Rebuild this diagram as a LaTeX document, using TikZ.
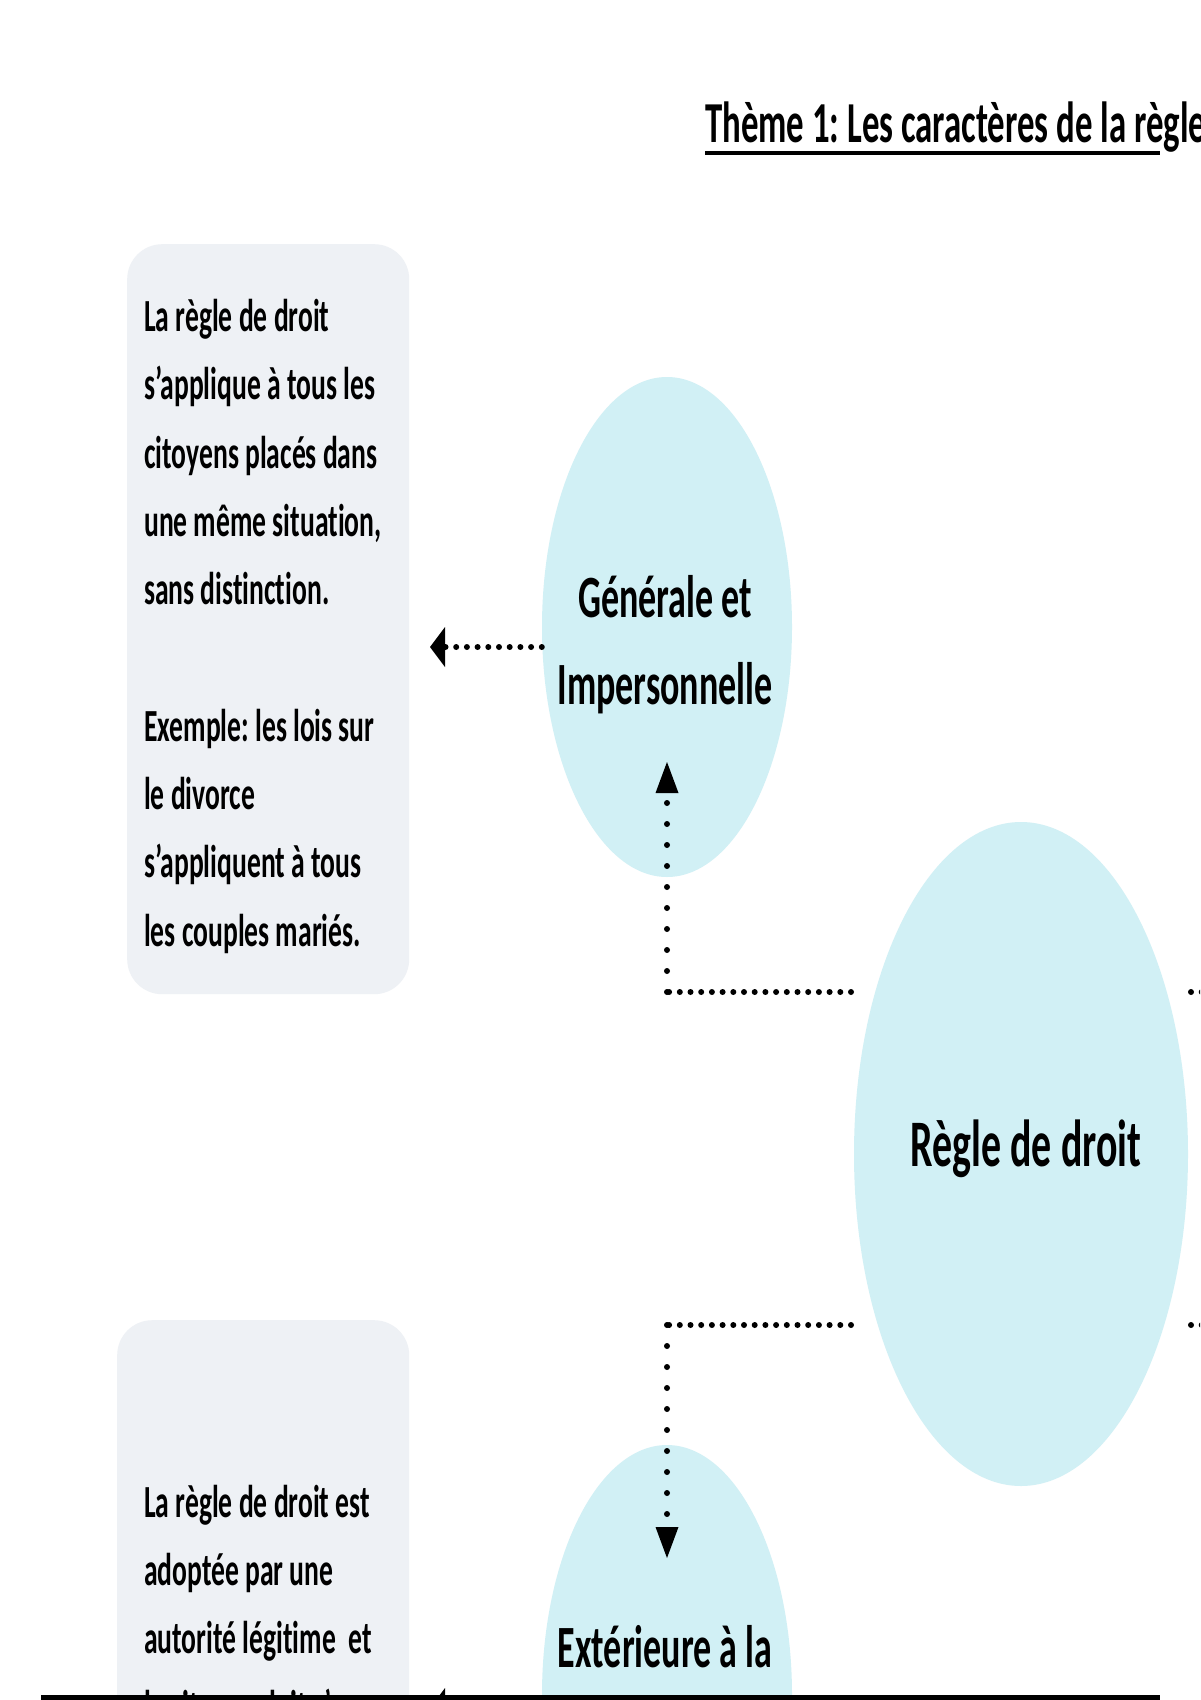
\documentclass[tikz,border=0pt]{standalone}
\usepackage{fontspec}
\setmainfont{Carlito}
\newfontfamily\cf[FakeStretch=0.6,Ligatures=NoCommon]{Carlito}
\usetikzlibrary{arrows.meta,shapes.geometric}
\definecolor{circfill}{RGB}{209,240,245}
\definecolor{boxfill}{RGB}{238,241,245}
\frenchspacing
\tikzset{
  circ/.style={ellipse, fill=circfill, inner sep=0pt, minimum width=250pt, minimum height=500pt},
  bigcirc/.style={ellipse, fill=circfill, inner sep=0pt, minimum width=334pt, minimum height=664pt},
  boxbg/.style={rectangle, fill=boxfill, rounded corners=35pt, inner sep=0pt},
  boxtext/.style={font=\cf\bfseries\frenchspacing\fontsize{46}{68.3}\selectfont, align=left, inner sep=0pt},
  ctext/.style={font=\cf\bfseries\frenchspacing\fontsize{60}{87}\selectfont, align=center, inner sep=0pt},
  ctextbig/.style={font=\cf\bfseries\frenchspacing\fontsize{66.5}{87}\selectfont, align=center, inner sep=0pt},
  titletext/.style={font=\cf\bfseries\frenchspacing\fontsize{58}{70}\selectfont, inner sep=0pt},
  doth/.style={line width=6pt, line cap=round, dash pattern=on 0pt off 10.7pt},
  dotv/.style={line width=6pt, line cap=round, dash pattern=on 0pt off 21pt},
  tiph/.style={-{Triangle[length=15pt,width=40pt,line width=0pt]}},
  tipv/.style={-{Triangle[length=31pt,width=23pt,line width=0pt]}},
}
\begin{document}
\begin{tikzpicture}[x=1pt,y=-1pt]
\useasboundingbox (0,0) rectangle (1200,1700);
\clip (0,0) rectangle (1200,1700);
\fill[white] (0,0) rectangle (1200,1700);

% title
\node[titletext, anchor=base west] (title) at (705,142) {Thème 1: Les caractères de la règle};
\draw[line width=4pt] ([yshift=-11pt]title.base west) -- ++(455,0);

% boxes
\node[boxbg, anchor=north west, minimum width=282pt, minimum height=750pt] (b1) at (127,244) {};
\node[boxbg, anchor=north west, minimum width=292pt, minimum height=700pt] (b2) at (117,1320) {};
\node[boxtext, anchor=base west] (bt1) at (144,946) {La règle de droit\\s’applique à tous les\\citoyens placés dans\\une même situation,\\sans distinction.\\[68pt]Exemple: les lois sur\\le divorce\\s’appliquent à tous\\les couples mariés.};
\node[boxtext, anchor=base west] (bt2) at (144,1722) {La règle de droit est\\adoptée par une\\autorité légitime~ et\\le citoyen doit s’y};

% circles
\node[circ] (c1) at (667,627) {};
\node[bigcirc] (c2) at (1021,1154) {};
\node[circ] (c3) at (667,1695) {};
\node[ctext, anchor=base] (t1) at (665,704) {Générale et\\Impersonnelle};
\node[ctextbig, anchor=base] (t2) at (1026,1166) {Règle de droit};
\node[ctext, anchor=base] (t3) at (665,1667) {Extérieure à la};

% connectors
\coordinate (tipL) at (430,647);
\draw[doth, tiph] (c1.west |- tipL) -- (tipL);

\coordinate (h1a) at (851,992);
\coordinate (h1b) at (667,992);
\coordinate (tipU) at (667,762);
\draw[doth] (h1a) -- (h1b);
\draw[dotv, tipv] (h1b) -- (tipU);

\coordinate (h2a) at (851,1325);
\coordinate (h2b) at (667,1325);
\coordinate (tipD) at (667,1558);
\draw[doth] (h2a) -- (h2b);
\draw[dotv, tipv] (h2b) -- (tipD);

\coordinate (r1a) at (1191,992);
\coordinate (r1b) at (1215,992);
\draw[doth] (r1a) -- (r1b);
\coordinate (r2a) at (1191,1325);
\coordinate (r2b) at (1215,1325);
\draw[doth] (r2a) -- (r2b);

\coordinate (tipL2) at (430,1708);
\draw[doth, tiph] (c3.west |- tipL2) -- (tipL2);

% bottom rule
\coordinate (bl1) at (41,1697);
\coordinate (bl2) at (1160,1697);
\draw[line width=5pt] (bl1) -- (bl2);
\end{tikzpicture}
\end{document}
